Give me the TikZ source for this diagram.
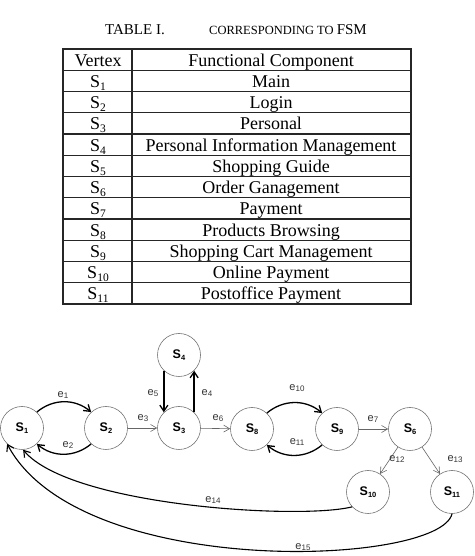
\documentclass[tikz,border=0pt]{standalone}
\usepackage{fontspec}
\setmainfont{Liberation Serif}
\setsansfont{Liberation Sans}
\usetikzlibrary{arrows.meta}
\newcommand{\vs}[1]{S\raisebox{-0.35ex}{\fontsize{11.5}{11.5}\selectfont #1}}
\newcommand{\sn}[1]{S\raisebox{-0.25ex}{\fontsize{7.5}{7.5}\selectfont #1}}
\newcommand{\en}[1]{e\raisebox{-0.3ex}{\fontsize{8}{8}\selectfont #1}}
\begin{document}
\begin{tikzpicture}[x=1pt,y=1pt,
  st/.style={circle,draw=black!55,line width=0.6pt,minimum size=43pt,inner sep=0pt,font=\sffamily\bfseries\fontsize{12.5}{12.5}\selectfont},
  thinedge/.style={draw=black!60,line width=0.6pt,-{Straight Barb[length=6pt,width=7pt]}},
  thickedge/.style={draw=black,line width=1.3pt,-{Straight Barb[length=6pt,width=8pt]}},
  lab/.style={font=\sffamily\fontsize{11}{11}\selectfont,text=black!80,inner sep=0pt},
  cell/.style={font=\fontsize{18}{18}\selectfont,anchor=base,inner sep=0pt},
  gridline/.style={line width=1.3pt,draw=black!85}]
\useasboundingbox (0,0) rectangle (474,556);
% title
\node[font=\fontsize{15}{15}\selectfont,anchor=base,inner sep=0pt] (t1) at (135,521) {TABLE I.};
\node[anchor=base west,inner sep=0pt] (t2) at (209,521) {{\fontsize{12.5}{12.5}\selectfont CORRESPONDING TO }{\fontsize{15}{15}\selectfont FSM}};
% table
\draw[gridline] (63,252) rectangle (411,507);
\foreach \k in {1,...,11} \draw[gridline] (63,{507-21.25*\k}) -- (411,{507-21.25*\k});
\draw[gridline] (132,252) -- (132,507);
\foreach \k/\v/\f in {0/Vertex/Functional Component,1/\vs{1}/Main,2/\vs{2}/Login,3/\vs{3}/Personal,4/\vs{4}/Personal Information Management,5/\vs{5}/Shopping Guide,6/\vs{6}/Order Ganagement,7/\vs{7}/Payment,8/\vs{8}/Products Browsing,9/\vs{9}/Shopping Cart Management,10/\vs{10}/Online Payment,11/\vs{11}/Postoffice Payment}{
  \node[cell] (v\k) at (98,{507-21.25*(\k+0.5)-6.5}) {\v};
  \node[cell] (f\k) at (271,{507-21.25*(\k+0.5)-6.5}) {\f};
}
% states
\node[st] (s1) at (22,128) {\sn{1}};
\node[st] (s2) at (106,128) {\sn{2}};
\node[st] (s3) at (179,128) {\sn{3}};
\node[st] (s4) at (179,201) {\sn{4}};
\node[st] (s8) at (252,127) {\sn{8}};
\node[st] (s9) at (337,127) {\sn{9}};
\node[st] (s6) at (410,127) {\sn{6}};
\node[st] (s10) at (368,64) {\sn{10}};
\node[st] (s11) at (452,64) {\sn{11}};
% edges
\draw[thickedge] (s1.47) to[bend left=40] (s2.133);
\draw[thickedge] (s2.-133) to[bend left=40] (s1.-47);
\draw[thinedge] (s2) -- (s3);
\draw[thickedge] (s4.-134) -- (s3.134);
\draw[thickedge] (s3.46) -- (s4.-46);
\draw[thinedge] (s3) -- (s8);
\draw[thickedge] (s8.47) to[bend left=40] (s9.133);
\draw[thickedge] (s9.-133) to[bend left=40] (s8.-47);
\draw[thinedge] (s9) -- (s6);
\draw[thinedge] (s6) -- (s10);
\draw[thinedge] (s6) -- (s11);
\draw[thickedge,line width=1.1pt] (s10.-137) .. controls (300,36) and (70,50) .. (s1.-87);
\draw[thickedge,line width=1.1pt] (s11.-90) .. controls (440,-10) and (80,-25) .. (s1.-133);
% labels
\node[lab] (l1) at (63,161) {\en{1}};
\node[lab] (l2) at (68,111) {\en{2}};
\node[lab] (l3) at (143,138) {\en{3}};
\node[lab] (l5) at (153,163) {\en{5}};
\node[lab] (l4) at (207,163) {\en{4}};
\node[lab] (l6) at (218,138) {\en{6}};
\node[lab] (l10) at (297,168) {\en{10}};
\node[lab] (l11) at (297,114) {\en{11}};
\node[lab] (l7) at (373,137) {\en{7}};
\node[lab] (l12) at (397,97) {\en{12}};
\node[lab] (l13) at (455,97) {\en{13}};
\node[lab] (l14) at (213,56) {\en{14}};
\node[lab] (l15) at (303,9) {\en{15}};
\end{tikzpicture}
\end{document}
